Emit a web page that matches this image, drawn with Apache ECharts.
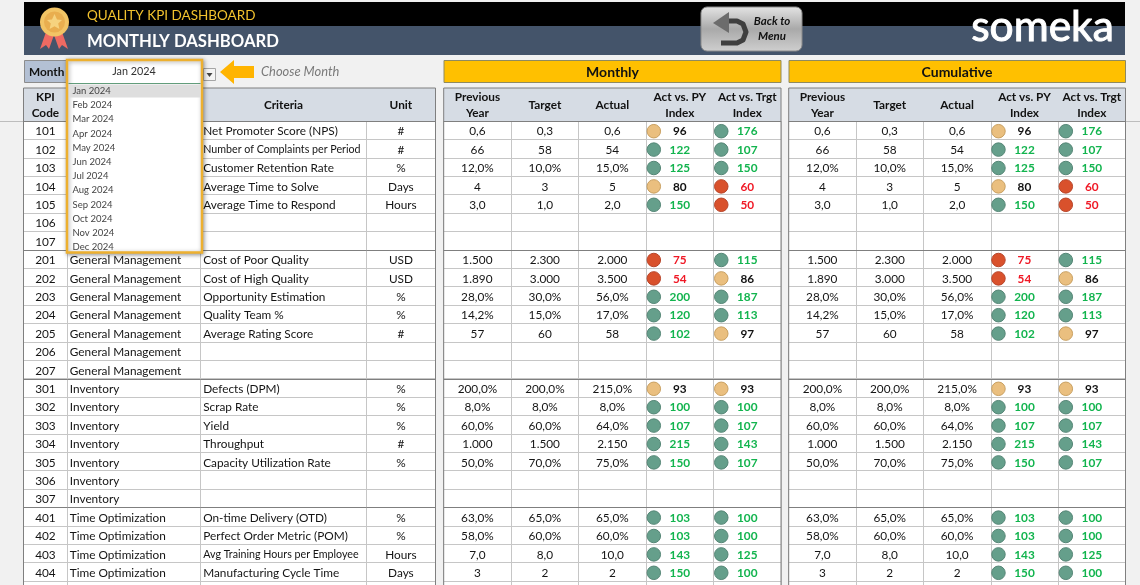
<!DOCTYPE html>
<html lang="en">
<head>
    <meta charset="UTF-8">
    <title>Quality KPI Dashboard</title>
    <script type="text/javascript" src="https://cdn.jsdelivr.net/npm/echarts@6/dist/echarts.min.js"></script>
    <style>
        html, body { margin: 0; padding: 0; background: #f1f1f1; }
        #main { width: 1140px; height: 585px; }
    </style>
</head>
<body>
<div id="main"></div>
<script>
    // table content, one list per column
    var months = ['Jan 2024', 'Feb 2024', 'Mar 2024', 'Apr 2024', 'May 2024', 'Jun 2024', 'Jul 2024', 'Aug 2024', 'Sep 2024', 'Oct 2024', 'Nov 2024', 'Dec 2024'];
    var kpiCodes = ['101', '102', '103', '104', '105', '106', '107', '201', '202', '203', '204', '205', '206', '207', '301', '302', '303', '304', '305', '306', '307', '401', '402', '403', '404', ''];
    var groupStarts = ['201', '301', '401'];
    var kpiGroups = ['', '', '', '', '', '', '',
        'General Management', 'General Management', 'General Management', 'General Management', 'General Management', 'General Management', 'General Management',
        'Inventory', 'Inventory', 'Inventory', 'Inventory', 'Inventory', 'Inventory', 'Inventory',
        'Time Optimization', 'Time Optimization', 'Time Optimization', 'Time Optimization', ''];
    var criteria = ['Net Promoter Score (NPS)', 'Number of Complaints per Period', 'Customer Retention Rate', 'Average Time to Solve', 'Average Time to Respond', '', '',
        'Cost of Poor Quality', 'Cost of High Quality', 'Opportunity Estimation', 'Quality Team %', 'Average Rating Score', '', '',
        'Defects (DPM)', 'Scrap Rate', 'Yield', 'Throughput', 'Capacity Utilization Rate', '', '',
        'On-time Delivery (OTD)', 'Perfect Order Metric (POM)', 'Avg Training Hours per Employee', 'Manufacturing Cycle Time', ''];
    var units = ['#', '#', '%', 'Days', 'Hours', '', '', 'USD', 'USD', '%', '%', '#', '', '', '%', '%', '%', '#', '%', '', '', '%', '%', 'Hours', 'Days', ''];
    var previousYear = ['0,6', '66', '12,0%', '4', '3,0', '', '', '1.500', '1.890', '28,0%', '14,2%', '57', '', '', '200,0%', '8,0%', '60,0%', '1.000', '50,0%', '', '', '63,0%', '58,0%', '7,0', '3', ''];
    var target = ['0,3', '58', '10,0%', '3', '1,0', '', '', '2.300', '3.000', '30,0%', '15,0%', '60', '', '', '200,0%', '8,0%', '60,0%', '1.500', '70,0%', '', '', '65,0%', '60,0%', '8,0', '2', ''];
    var actual = ['0,6', '54', '15,0%', '5', '2,0', '', '', '2.000', '3.500', '56,0%', '17,0%', '58', '', '', '215,0%', '8,0%', '64,0%', '2.150', '75,0%', '', '', '65,0%', '60,0%', '10,0', '2', ''];
    var pyIndex = [96, 122, 125, 80, 150, null, null, 75, 54, 200, 120, 102, null, null, 93, 100, 107, 215, 150, null, null, 103, 103, 143, 150, null];
    var trgtIndex = [176, 107, 150, 60, 50, null, null, 115, 86, 187, 113, 97, null, null, 93, 100, 107, 143, 107, null, null, 100, 100, 125, 100, null];
    var metricHeaders = ['Previous\nYear', 'Target', 'Actual', 'Act vs. PY\nIndex', 'Act vs. Trgt\nIndex'];

    var FONT = 'Lato, "Open Sans", sans-serif';
    var CELL_SIZE = 11.8;
    var TABLE_TOP = 121;
    var ROW_H = 18.4;
    var LINE = '#c6c6c6';
    var OUTLINE = '#7f7f7f';

    var grids = [], xAxes = [], yAxes = [], series = [];

    function statusColor(v) {
        if (v >= 100) return {dot: '#659f8b', edge: '#558676', text: '#12b44e'};
        if (v >= 80) return {dot: '#eabf7f', edge: '#c9a060', text: '#111'};
        return {dot: '#d9512c', edge: '#b8452a', text: '#f01825'};
    }

    // one grid = one block of equal width columns
    function addBlock(left, width, headers, columns) {
        var g = grids.length;
        grids.push({show: true, backgroundColor: '#fff', borderWidth: 0, outerBoundsMode: 'none', left: left, top: TABLE_TOP, width: width, height: ROW_H * kpiCodes.length});
        xAxes.push({
            type: 'category', gridIndex: g, position: 'top', data: headers,
            axisLine: {show: false}, axisTick: {show: false},
            axisLabel: {interval: 0, margin: 16, verticalAlign: 'middle', lineHeight: 16, color: '#111', fontFamily: FONT, fontWeight: 'bold', fontSize: 11.8},
            splitLine: {show: true, interval: 0, lineStyle: {color: LINE}}
        });
        yAxes.push({
            type: 'category', gridIndex: g, inverse: true, data: kpiCodes.map(function (c, i) { return i; }),
            axisLine: {show: false}, axisTick: {show: false}, axisLabel: {show: false},
            splitLine: {show: true, interval: 0, lineStyle: {color: LINE}}
        });

        // darker line above every kpi group
        series.push({
            type: 'custom', xAxisIndex: g, yAxisIndex: g, silent: true, z: 3,
            data: groupStarts.map(function (c) { return [0, kpiCodes.indexOf(c)]; }),
            renderItem: function (params, api) {
                var p = api.coord([0, api.value(1)]);
                var y = Math.round(p[1] - api.size([0, 1])[1] / 2) + 0.5;
                return {type: 'line', shape: {x1: params.coordSys.x, y1: y, x2: params.coordSys.x + params.coordSys.width, y2: y}, style: {stroke: OUTLINE, lineWidth: 1}};
            }
        });

        columns.forEach(function (col, c) {
            var items = [];
            col.values.forEach(function (v, i) {
                if (v !== '' && v !== null) items.push({col: c, row: i, v: v});
            });
            series.push({
                type: 'custom', xAxisIndex: g, yAxisIndex: g, silent: true, z: 5,
                data: items.map(function (d) { return [d.col, d.row]; }),
                renderItem: function (params, api) {
                    var d = items[params.dataIndex];
                    var p = api.coord([d.col, d.row]);
                    var left = col.align === 'left';
                    var isIndex = !!col.index;
                    var size = col.fit && String(d.v).length > 28 ? CELL_SIZE - 1.1 : CELL_SIZE;
                    return {
                        type: 'text',
                        style: {
                            text: String(d.v),
                            x: left ? params.coordSys.x + 2.5 : p[0],
                            y: p[1] + 1.3,
                            align: left ? 'left' : 'center', textAlign: left ? 'left' : 'center',
                            verticalAlign: 'middle', textVerticalAlign: 'middle',
                            fill: isIndex ? statusColor(d.v).text : '#141414',
                            font: (isIndex ? 'bold ' : '') + size + 'px ' + FONT
                        }
                    };
                }
            });
            if (col.index) {
                series.push({
                    type: 'scatter', xAxisIndex: g, yAxisIndex: g, silent: true, z: 4,
                    symbolSize: 13.5, symbolOffset: [-26, 1],
                    data: items.map(function (d) {
                        var s = statusColor(d.v);
                        return {value: [d.col, d.row], itemStyle: {color: s.dot, borderColor: s.edge, borderWidth: 1, opacity: 1}};
                    })
                });
            }
        });
    }

    // left part has unequal columns, so one block per column
    addBlock(23.5, 43.8, ['KPI\nCode'], [{values: kpiCodes}]);
    addBlock(67.3, 133.4, ['KPI Group'], [{values: kpiGroups, align: 'left'}]);
    addBlock(200.7, 165.6, ['Criteria'], [{values: criteria, align: 'left', fit: true}]);
    addBlock(366.3, 69.2, ['Unit'], [{values: units}]);

    var metricColumns = [{values: previousYear}, {values: target}, {values: actual}, {values: pyIndex, index: true}, {values: trgtIndex, index: true}];
    addBlock(443.7, 337.3, metricHeaders, metricColumns);
    addBlock(788.7, 336.8, metricHeaders, metricColumns);

    function box(x, y, w, h, fill, stroke, z) {
        return {type: 'rect', z: z === undefined ? 1 : z, shape: {x: x, y: y, width: w, height: h}, style: {fill: fill, stroke: stroke || null, lineWidth: 1}};
    }
    function label(x, y, text, font, fill, align, z) {
        return {type: 'text', z: z || 6, style: {x: x, y: y, text: text, font: font, fill: fill, textAlign: align || 'left', textVerticalAlign: 'middle', align: align || 'left', verticalAlign: 'middle'}};
    }

    var logo = label(1042.5, 27, 'someka', '42.5px ' + FONT, '#fff', 'center');
    logo.style.stroke = '#fff';
    logo.style.lineWidth = 1;

    var deco = [
        // title band
        box(24, 2, 1101, 24, '#000'),
        box(24, 26, 1101, 29, '#44546a'),
        label(87, 16, 'QUALITY KPI DASHBOARD', '13.5px ' + FONT, '#f2c22e'),
        label(87, 42, 'MONTHLY DASHBOARD', 'bold 16.7px ' + FONT, '#fff'),
        // medal
        {type: 'polygon', z: 2, shape: {points: [[46, 32], [54, 35], [49, 49], [46, 45], [40, 49]]}, style: {fill: '#ee6a62'}},
        {type: 'polygon', z: 2, shape: {points: [[62, 32], [54, 35], [59, 49], [62, 45], [68, 49]]}, style: {fill: '#ee6a62'}},
        {type: 'circle', z: 3, shape: {cx: 54.5, cy: 22, r: 14.5}, style: {fill: '#f2c465'}},
        {type: 'circle', z: 3, shape: {cx: 54.5, cy: 22, r: 10.5}, style: {fill: '#e9ae4f'}},
        {type: 'polygon', z: 4, shape: {points: [[54.5, 14], [57, 19.5], [62, 20], [58.2, 23.6], [59.4, 29], [54.5, 26.2], [49.6, 29], [50.8, 23.6], [47, 20], [52, 19.5]]}, style: {fill: '#f6d37f'}},
        // back to menu button
        {type: 'rect', z: 2, shape: {x: 701, y: 7, width: 101, height: 44, r: 6}, style: {
            fill: new echarts.graphic.LinearGradient(0, 0, 0, 1, [{offset: 0, color: '#e4e4e4'}, {offset: 0.5, color: '#a9a9a9'}, {offset: 1, color: '#cfcfcf'}]),
            stroke: '#8a8a8a', lineWidth: 1
        }},
        {type: 'polyline', z: 3, shape: {points: [[727, 21], [737, 21], [743, 24], [746, 32], [743, 40], [737, 43], [721, 43]]}, style: {fill: null, stroke: '#3f3f3f', lineWidth: 5, lineJoin: 'round'}},
        {type: 'polygon', z: 4, shape: {points: [[729, 12], [713, 23], [729, 33]]}, style: {fill: '#6c6c6c'}},
        label(772, 21, 'Back to', 'italic bold 11.5px ' + FONT, '#111', 'center'),
        label(772, 36, 'Menu', 'italic bold 11.5px ' + FONT, '#111', 'center'),
        logo,
        // selector row
        box(24.5, 60.5, 42, 22, '#b3c0d4', '#8c8c8c'),
        label(29, 72, 'Month', 'bold 11.8px ' + FONT, '#111'),
        box(203.5, 68.5, 12, 12, '#f4f4f4', '#a5a5a5'),
        {type: 'polygon', z: 2, shape: {points: [[206.5, 73], [212.5, 73], [209.5, 77]]}, style: {fill: '#444'}},
        {type: 'polygon', z: 2, shape: {points: [[220, 72], [234, 60], [234, 66], [254, 66], [254, 78], [234, 78], [234, 84]]}, style: {fill: '#ffb400'}},
        label(261, 72, 'Choose Month', 'italic 12.9px ' + FONT, '#7a7a7a'),
        box(444, 60.5, 337, 22, '#ffc000', '#8f8a60'),
        label(612.5, 72, 'Monthly', 'bold 14px ' + FONT, '#111', 'center'),
        box(789, 60.5, 336.5, 22, '#ffc000', '#8f8a60'),
        label(957, 72, 'Cumulative', 'bold 14px ' + FONT, '#111', 'center'),
        // header fill and outlines
        box(23.5, 88, 412, 33, '#d6dce4', null, -1),
        box(443.7, 88, 337.3, 33, '#d6dce4', null, -1),
        box(788.7, 88, 336.8, 33, '#d6dce4', null, -1),
        box(23.5, 88, 412, 540, 'transparent', OUTLINE, 10),
        box(443.7, 88, 337.3, 540, 'transparent', OUTLINE, 10),
        box(788.7, 88, 336.8, 540, 'transparent', OUTLINE, 10),
        {type: 'line', z: 10, shape: {x1: 23.5, y1: 121.5, x2: 435.5, y2: 121.5}, style: {stroke: OUTLINE}},
        {type: 'line', z: 10, shape: {x1: 443.7, y1: 121.5, x2: 781, y2: 121.5}, style: {stroke: OUTLINE}},
        {type: 'line', z: 10, shape: {x1: 788.7, y1: 121.5, x2: 1125.5, y2: 121.5}, style: {stroke: OUTLINE}},
        {type: 'line', z: 1, shape: {x1: 0, y1: 121.5, x2: 23.5, y2: 121.5}, style: {stroke: '#bdbdbd'}},
        {type: 'line', z: 1, shape: {x1: 1125.5, y1: 121.5, x2: 1140, y2: 121.5}, style: {stroke: '#bdbdbd'}},
        // open month list
        {type: 'rect', z: 50, shape: {x: 67, y: 60, width: 135, height: 192.5}, style: {fill: '#fff', stroke: '#edb02f', lineWidth: 2.5, shadowBlur: 4, shadowColor: 'rgba(0,0,0,0.35)', shadowOffsetX: 1, shadowOffsetY: 1}},
        box(68.5, 83, 132, 0.8, '#2e7d4f', null, 51),
        box(69, 84.5, 131, 13, '#dedede', null, 51),
        label(134, 72, months[0], '10.8px ' + FONT, '#333', 'center', 52)
    ];
    months.forEach(function (m, i) {
        deco.push(label(72.5, 91 + i * 14.2, m, '9.5px ' + FONT, '#444', 'left', 52));
    });

    var myChart = echarts.init(document.getElementById('main'));
    myChart.setOption({
        animation: false,
        backgroundColor: '#f1f1f1',
        tooltip: {show: false},
        grid: grids,
        xAxis: xAxes,
        yAxis: yAxes,
        series: series,
        graphic: {elements: deco}
    });
</script>
</body>
</html>
